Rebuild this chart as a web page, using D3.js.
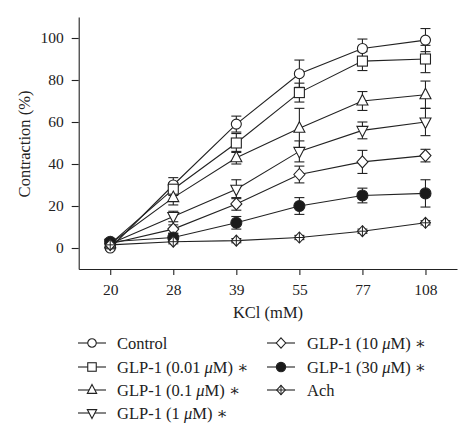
<!DOCTYPE html>
<html><head><meta charset="utf-8">
<script src="https://cdn.jsdelivr.net/npm/d3@7"></script>
<style>
body{margin:0;background:#fff;}
svg text{font-family:"Liberation Serif","DejaVu Serif",serif;fill:#222;}
</style></head>
<body><svg id="c" width="474" height="439"></svg>
<script>
const categories = ["20","28","39","55","77","108"];
const yTicks = [0,20,40,60,80,100];
const control    = [0, 30, 59, 83, 95, 99];
const controlErr = [1, 3.5, 3.8, 6.5, 4.5, 5.5];
const glp001     = [2, 28, 50, 74, 89, 90];
const glp001Err  = [1, 3, 4.5, 4.5, 4.5, 6.5];
const glp01      = [2, 24, 43, 57, 70, 73];
const glp01Err   = [1, 3.5, 3, 9.5, 4.5, 6.5];
const glp1       = [2, 15, 28, 46, 56, 60];
const glp1Err    = [1, 2.5, 4.5, 5, 4, 6.5];
const glp10      = [2, 9, 21, 35, 41, 44];
const glp10Err   = [1, 2, 3, 4, 5.5, 3];
const glp30      = [3, 5, 12, 20, 25, 26];
const glp30Err   = [1, 2, 3, 4, 3.5, 6.5];
const ach        = [1.5, 3, 3.5, 5, 8, 12];
const achErr     = [1, 1, 1, 1, 1, 1];

const seriesNames = ["Control","GLP-1 (0.01 μM) ∗","GLP-1 (0.1 μM) ∗","GLP-1 (1 μM) ∗","GLP-1 (10 μM) ∗","GLP-1 (30 μM) ∗","Ach"];
const markers = ["circle","square","triUp","triDown","diamond","filled","crossDiamond"];
const series = [
  {name:seriesNames[0], v:control, e:controlErr, m:markers[0]},
  {name:seriesNames[1], v:glp001, e:glp001Err, m:markers[1]},
  {name:seriesNames[2], v:glp01, e:glp01Err, m:markers[2]},
  {name:seriesNames[3], v:glp1, e:glp1Err, m:markers[3]},
  {name:seriesNames[4], v:glp10, e:glp10Err, m:markers[4]},
  {name:seriesNames[5], v:glp30, e:glp30Err, m:markers[5]},
  {name:seriesNames[6], v:ach, e:achErr, m:markers[6]}
];

const svg = d3.select("#c");
const ink = "#222";
const x = d3.scalePoint().domain(categories).range([78.7,457]).padding(0.5);
const y = d3.scaleLinear().domain([-10,110]).range([269,17]);

// axes
const gy = svg.append("g").attr("transform","translate(78.7,0)")
  .call(d3.axisLeft(y).tickValues(yTicks).tickSize(7).tickSizeOuter(0).tickPadding(8));
const gx = svg.append("g").attr("transform","translate(0,269)")
  .call(d3.axisBottom(x).tickSize(6).tickSizeOuter(0).tickPadding(9));
[gx,gy].forEach(g=>{
  g.selectAll("path,line").attr("stroke",ink).attr("stroke-width",1.1);
  g.selectAll("text").attr("font-size",15.5).attr("font-family","Liberation Serif, serif").attr("fill",ink);
});

svg.append("text").attr("x",268).attr("y",318).attr("text-anchor","middle").attr("font-size",16.5).text("KCl (mM)");
svg.append("text").attr("transform","translate(30,144) rotate(-90)").attr("text-anchor","middle").attr("font-size",16.5).text("Contraction (%)");

function drawMarker(g, type, s){
  const st = {stroke:ink,"stroke-width":1.1,fill:"#fff"};
  let el;
  if(type==="circle"){ el=g.append("circle").attr("r",5*s); }
  else if(type==="filled"){ el=g.append("circle").attr("r",5.5*s); st.fill="#1a1a1a"; }
  else if(type==="square"){ el=g.append("rect").attr("x",-5*s).attr("y",-5*s).attr("width",10*s).attr("height",10*s); }
  else if(type==="triUp"){ el=g.append("path").attr("d",`M0,${-6.5*s}L${5.5*s},${4*s}L${-5.5*s},${4*s}Z`); }
  else if(type==="triDown"){ el=g.append("path").attr("d",`M0,${6.5*s}L${5.5*s},${-4*s}L${-5.5*s},${-4*s}Z`); }
  else if(type==="diamond"){ el=g.append("path").attr("d",`M0,${-6*s}L${5.5*s},0L0,${6*s}L${-5.5*s},0Z`); }
  else if(type==="crossDiamond"){
    el=g.append("path").attr("d",`M0,${-5.5*s}L${5*s},0L0,${5.5*s}L${-5*s},0Z`);
    g.append("path").attr("d",`M0,${-5.5*s}V${5.5*s}M${-5*s},0H${5*s}`).attr("stroke",ink).attr("stroke-width",1);
    Object.entries(st).forEach(([k,v])=>el.attr(k,v));
    el.lower();
    return;
  }
  Object.entries(st).forEach(([k,v])=>el.attr(k,v));
}

const line = d3.line().x((d,i)=>x(categories[i])).y(d=>y(d));
const plot = svg.append("g");
series.forEach(s=>{
  plot.append("path").attr("d",line(s.v)).attr("fill","none").attr("stroke",ink).attr("stroke-width",1.1);
});
series.forEach(s=>{
  s.v.forEach((v,i)=>{
    const cx = x(categories[i]);
    const g = plot.append("g").attr("stroke",ink).attr("stroke-width",1.1);
    g.append("line").attr("x1",cx).attr("x2",cx).attr("y1",y(v-s.e[i])).attr("y2",y(v+s.e[i]));
    [v-s.e[i], v+s.e[i]].forEach(t=>{
      g.append("line").attr("x1",cx-5).attr("x2",cx+5).attr("y1",y(t)).attr("y2",y(t));
    });
  });
});
series.forEach(s=>{
  s.v.forEach((v,i)=>{
    const g = plot.append("g").attr("transform",`translate(${x(categories[i])},${y(v)})`);
    drawMarker(g, s.m, 1);
  });
});

// legend
const legCols = [{lx:78, tx:117},{lx:267, tx:307}];
const rowY = [343, 367, 390, 413];
series.forEach((s,i)=>{
  const col = i<4 ? 0 : 1;
  const row = i<4 ? i : i-4;
  const c = legCols[col], yy = rowY[row];
  const g = svg.append("g");
  g.append("line").attr("x1",c.lx).attr("x2",c.lx+28).attr("y1",yy).attr("y2",yy).attr("stroke",ink).attr("stroke-width",1.1);
  const mg = g.append("g").attr("transform",`translate(${c.lx+14},${yy})`);
  drawMarker(mg, s.m, 0.85);
  const t = g.append("text").attr("x",c.tx).attr("y",yy+5.5).attr("font-size",16.5);
  const parts = s.name.split("μ");
  t.append("tspan").text(parts[0]);
  if(parts.length>1){
    t.append("tspan").attr("font-style","italic").text("μ");
    t.append("tspan").text(parts[1]);
  }
});
</script></body></html>
